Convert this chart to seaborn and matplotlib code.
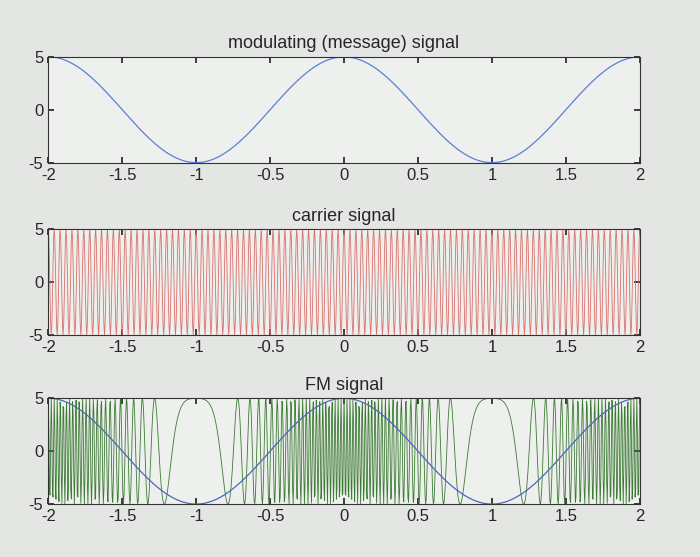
import numpy as np
import pandas as pd
import seaborn as sns
from matplotlib import pyplot as plt

# signal parameters
amp = 5.0          # amplitude of all three signals
f_msg = 0.5        # message frequency (peaks at -2, 0, 2)
f_carrier = 25.0   # carrier frequency (~100 cycles over 4 s)
k_f = 4.9          # frequency deviation per unit of message
t_start, t_stop, t_step = -2.0, 2.0, 0.004

titles = ["modulating (message) signal", "carrier signal", "FM signal"]
xticks = [-2, -1.5, -1, -0.5, 0, 0.5, 1, 1.5, 2]
xtick_labels = ["-2", "-1.5", "-1", "-0.5", "0", "0.5", "1", "1.5", "2"]
yticks = [-5, 0, 5]
ytick_labels = ["-5", "0", "5"]

t = np.arange(t_start, t_stop + t_step / 2, t_step)
msg = amp * np.cos(2 * np.pi * f_msg * t)
carrier = amp * np.cos(2 * np.pi * f_carrier * t)
fm = amp * np.cos(2 * np.pi * f_carrier * t
                  + 2 * np.pi * k_f * amp / (2 * np.pi * f_msg) * np.sin(2 * np.pi * f_msg * t))

df = pd.DataFrame({"t": t, "msg": msg, "carrier": carrier, "fm": fm})

sns.set_theme(style="white")
plt.rcParams['font.family'] = ['Liberation Sans', 'DejaVu Sans']
plt.rcParams['axes.unicode_minus'] = False

fig = plt.figure(figsize=(7.0, 5.57), dpi=100)
fig.patch.set_facecolor("#e4e6e3")
lefts, width, height = 0.069, 0.845, 0.19
tops = [0.898, 0.589, 0.285]
axes = [fig.add_axes([lefts, top - height, width, height]) for top in tops]

sns.lineplot(data=df, x="t", y="msg", ax=axes[0], color="#5b7fd8", lw=0.9)
sns.lineplot(data=df, x="t", y="carrier", ax=axes[1], color="#d9706c", lw=0.6)
sns.lineplot(data=df, x="t", y="fm", ax=axes[2], color="#3d7a35", lw=0.6)
sns.lineplot(data=df, x="t", y="msg", ax=axes[2], color="#4a68b8", lw=0.9)

for ax, title in zip(axes, titles):
    ax.set_facecolor("#eef0ed")
    ax.set_xlim(-2, 2)
    ax.set_ylim(-5, 5)
    ax.set_xticks(xticks)
    ax.set_xticklabels(xtick_labels)
    ax.set_yticks(yticks)
    ax.set_yticklabels(ytick_labels)
    ax.set_xlabel("")
    ax.set_ylabel("")
    ax.set_title(title, fontsize=13, pad=6)
    ax.tick_params(labelsize=12, direction="in", length=4, bottom=True, left=True, top=True, right=True)
    for s in ax.spines.values():
        s.set_color("#333333")
        s.set_linewidth(0.8)

fig.savefig("out.png", dpi=100, facecolor=fig.get_facecolor())
